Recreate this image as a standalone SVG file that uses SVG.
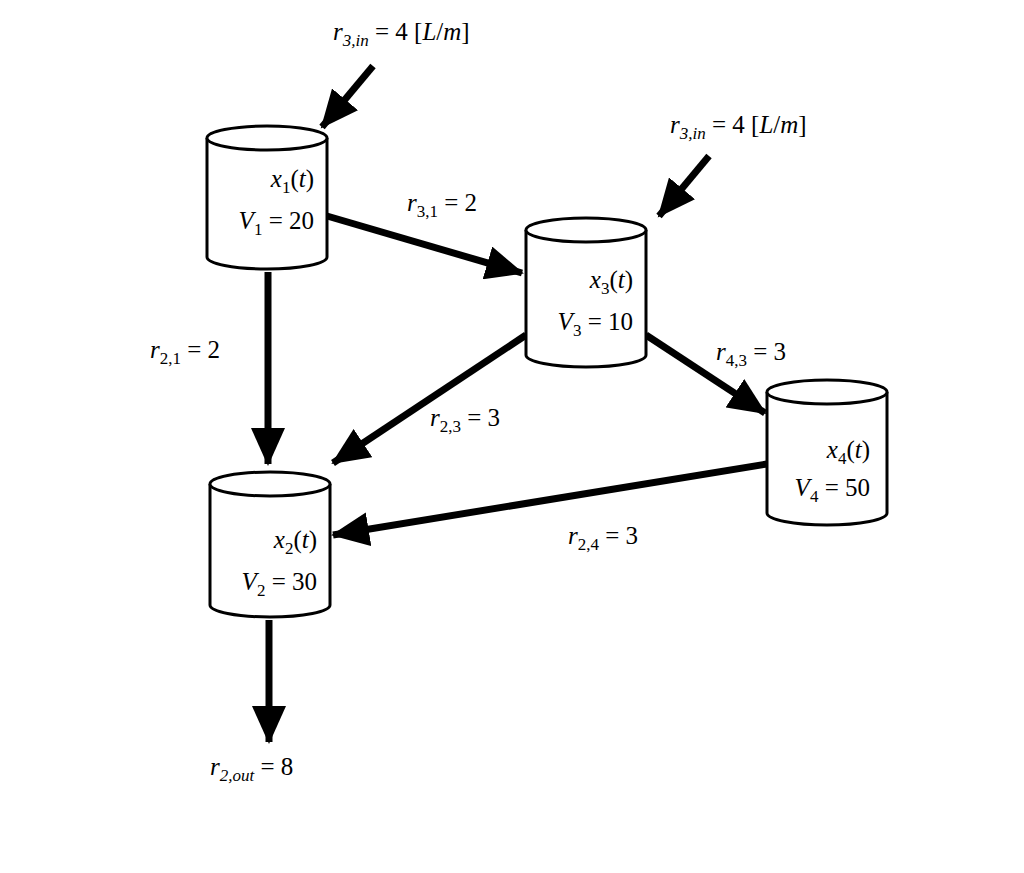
<svg xmlns="http://www.w3.org/2000/svg" width="1024" height="873" viewBox="0 0 1024 873">
<style>
.c{fill:#fff;stroke:#000;stroke-width:3}
.t{font-family:"Liberation Serif",serif;font-size:25px;fill:#000}
.i{font-style:italic}
.s{font-size:17px}
.a{stroke:#000;stroke-width:7;fill:none;marker-end:url(#ah)}
</style>
<defs>
<marker id="ah" markerUnits="userSpaceOnUse" markerWidth="40" markerHeight="34" refX="36" refY="17" orient="auto">
<path d="M0,0 L38,17 L0,34 Z" fill="#000"/>
</marker>
</defs>
<rect width="1024" height="873" fill="#fff"/>
<g id="connectors">
<line class="a" x1="373" y1="66" x2="322" y2="127"/>
<line class="a" x1="709" y1="156" x2="659" y2="216"/>
<line class="a" x1="327" y1="216" x2="522" y2="273"/>
<line class="a" x1="268" y1="272" x2="268" y2="464"/>
<line class="a" x1="526" y1="335" x2="333" y2="463"/>
<line class="a" x1="646" y1="335" x2="765" y2="413"/>
<line class="a" x1="767" y1="464" x2="333" y2="535"/>
<line class="a" x1="269" y1="620" x2="269" y2="742"/>
</g>
<g id="n1">
<path class="c" d="M207,138 V257 A60,12 0 0 0 327,257 V138"/>
<ellipse class="c" cx="267" cy="138" rx="60" ry="12"/>
<text class="t" x="314" y="187" text-anchor="end"><tspan class="i">x</tspan><tspan class="s" dy="6">1</tspan><tspan dy="-6">(</tspan><tspan class="i">t</tspan>)</text>
<text class="t" x="314" y="229" text-anchor="end"><tspan class="i">V</tspan><tspan class="s" dy="6">1</tspan><tspan dy="-6"> = 20</tspan></text>
</g>
<g id="n3">
<path class="c" d="M526,230 V355 A60,12 0 0 0 646,355 V230"/>
<ellipse class="c" cx="586" cy="230" rx="60" ry="12"/>
<text class="t" x="633" y="288" text-anchor="end"><tspan class="i">x</tspan><tspan class="s" dy="6">3</tspan><tspan dy="-6">(</tspan><tspan class="i">t</tspan>)</text>
<text class="t" x="633" y="330" text-anchor="end"><tspan class="i">V</tspan><tspan class="s" dy="6">3</tspan><tspan dy="-6"> = 10</tspan></text>
</g>
<g id="n4">
<path class="c" d="M767,392 V513 A60,12 0 0 0 887,513 V392"/>
<ellipse class="c" cx="827" cy="392" rx="60" ry="12"/>
<text class="t" x="870" y="458" text-anchor="end"><tspan class="i">x</tspan><tspan class="s" dy="6">4</tspan><tspan dy="-6">(</tspan><tspan class="i">t</tspan>)</text>
<text class="t" x="870" y="496" text-anchor="end"><tspan class="i">V</tspan><tspan class="s" dy="6">4</tspan><tspan dy="-6"> = 50</tspan></text>
</g>
<g id="n2">
<path class="c" d="M210,484 V605 A60,12 0 0 0 330,605 V484"/>
<ellipse class="c" cx="270" cy="484" rx="60" ry="12"/>
<text class="t" x="317" y="548" text-anchor="end"><tspan class="i">x</tspan><tspan class="s" dy="6">2</tspan><tspan dy="-6">(</tspan><tspan class="i">t</tspan>)</text>
<text class="t" x="317" y="590" text-anchor="end"><tspan class="i">V</tspan><tspan class="s" dy="6">2</tspan><tspan dy="-6"> = 30</tspan></text>
</g>
<g id="labels">
<text class="t" x="333" y="40"><tspan class="i">r</tspan><tspan class="s i" dy="6">3,in</tspan><tspan dy="-6"> = 4 [</tspan><tspan class="i">L</tspan>/<tspan class="i">m</tspan>]</text>
<text class="t" x="670" y="133"><tspan class="i">r</tspan><tspan class="s i" dy="6">3,in</tspan><tspan dy="-6"> = 4 [</tspan><tspan class="i">L</tspan>/<tspan class="i">m</tspan>]</text>
<text class="t" x="407" y="211"><tspan class="i">r</tspan><tspan class="s" dy="6">3,1</tspan><tspan dy="-6"> = 2</tspan></text>
<text class="t" x="150" y="358"><tspan class="i">r</tspan><tspan class="s" dy="6">2,1</tspan><tspan dy="-6"> = 2</tspan></text>
<text class="t" x="716" y="360"><tspan class="i">r</tspan><tspan class="s" dy="6">4,3</tspan><tspan dy="-6"> = 3</tspan></text>
<text class="t" x="430" y="426"><tspan class="i">r</tspan><tspan class="s" dy="6">2,3</tspan><tspan dy="-6"> = 3</tspan></text>
<text class="t" x="568" y="544"><tspan class="i">r</tspan><tspan class="s" dy="6">2,4</tspan><tspan dy="-6"> = 3</tspan></text>
<text class="t" x="210" y="775"><tspan class="i">r</tspan><tspan class="s i" dy="6">2,out</tspan><tspan dy="-6"> = 8</tspan></text>
</g>
</svg>
